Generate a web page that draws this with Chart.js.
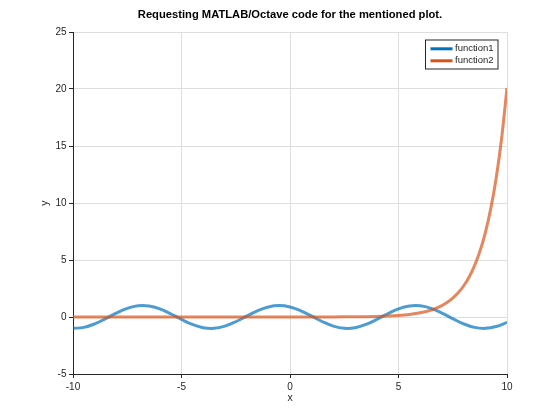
<!DOCTYPE html>
<html>
<head>
<meta charset="utf-8">
<script src="https://cdn.jsdelivr.net/npm/chart.js@4.4.0/dist/chart.umd.min.js"></script>
<style>
html,body{margin:0;padding:0;background:#fff;}
#wrap{width:560px;height:420px;}
</style>
</head>
<body>
<div id="wrap"><canvas id="c" width="560" height="420"></canvas></div>
<script>
// ---- data ----
const titleText = "Requesting MATLAB/Octave code for the mentioned plot.";
const seriesNames = ["function1", "function2"];
const xTickValues = [-10, -5, 0, 5, 10];
const yTickValues = [-5, 0, 5, 10, 15, 20, 25];

const x1 = [-10,-9.5,-9,-8.5,-8,-7.5,-7,-6.5,-6,-5.5,-5,-4.5,-4,-3.5,-3,-2.5,-2,-1.5,-1,-0.5,
            0,0.5,1,1.5,2,2.5,3,3.5,4,4.5,5,5.5,6,6.5,7,7.5,8,8.5,9,9.5,10];
const y1 = [-0.997,-0.911,-0.602,-0.146,0.347,0.754,0.977,0.960,0.709,0.284,-0.211,-0.654,-0.937,-0.990,-0.801,-0.416,0.071,0.540,0.878,1.000,
            0.878,0.540,0.071,-0.416,-0.801,-0.990,-0.937,-0.654,-0.211,0.284,0.709,0.960,0.977,0.754,0.347,-0.146,-0.602,-0.911,-0.997,-0.839,-0.476];

const x2 = [-10,-9,-8,-7,-6,-5,-4,-3,-2,-1,0,0.5,1,1.5,2,2.5,3,3.5,4,4.5,5,5.5,6,6.5,
            7,7.25,7.5,7.75,8,8.25,8.5,8.75,9,9.25,9.5,9.75,10];
const y2 = [0,0,0,0,0,0,0,0,0,0.0003,0.0009,0.0015,0.0025,0.0041,0.0067,0.0111,0.0183,0.0302,0.0498,0.0821,0.135,0.223,0.368,0.607,
            1.0,1.284,1.649,2.117,2.718,3.490,4.482,5.755,7.389,9.488,12.18,15.64,20.09];

const lineColors = ["rgba(0,114,189,0.7)", "rgba(217,83,25,0.7)"];
const legendColors = ["#0072BD", "#D95319"];
const inkColor = "#262626";
const gridColor = "#dedede";
const fontFamily = "'Liberation Sans', Arial, Helvetica, sans-serif";

function pts(xs, ys){ return xs.map((x,i)=>({x:x, y:ys[i]})); }

const titlePlugin = {
  id: 'centeredTitle',
  afterDraw(chart){
    const ctx = chart.ctx, a = chart.chartArea;
    ctx.save();
    ctx.font = "bold 11.2px " + fontFamily;
    ctx.fillStyle = '#000';
    ctx.textAlign = 'center';
    ctx.textBaseline = 'alphabetic';
    ctx.fillText(titleText, (a.left + a.right) / 2, 17.5);
    ctx.restore();
  }
};

const legendPlugin = {
  id: 'boxLegend',
  afterDraw(chart){
    const ctx = chart.ctx;
    const left = 425, top = 39.5, w = 73.5, h = 30;
    ctx.save();
    ctx.fillStyle = '#fff';
    ctx.fillRect(left, top, w, h);
    ctx.strokeStyle = inkColor;
    ctx.lineWidth = 1;
    ctx.strokeRect(left + 0.5, top + 0.5, w - 1, h - 1);
    ctx.font = "9.5px " + fontFamily;
    ctx.textBaseline = 'middle';
    ctx.textAlign = 'left';
    const rows = [48.8, 60.8];
    seriesNames.forEach((n,i)=>{
      ctx.strokeStyle = legendColors[i];
      ctx.lineWidth = 3;
      ctx.beginPath();
      ctx.moveTo(430.5, rows[i]);
      ctx.lineTo(452.5, rows[i]);
      ctx.stroke();
      ctx.fillStyle = inkColor;
      ctx.fillText(n, 455, rows[i]);
    });
    ctx.restore();
  }
};

new Chart(document.getElementById('c'), {
  type: 'line',
  data: {
    datasets: [
      { label: seriesNames[0], data: pts(x1, y1), borderColor: lineColors[0], borderWidth: 3,
        pointRadius: 0, tension: 0.4, fill: false, order: 1 },
      { label: seriesNames[1], data: pts(x2, y2), borderColor: lineColors[1], borderWidth: 3,
        pointRadius: 0, cubicInterpolationMode: 'monotone', fill: false, order: 0 }
    ]
  },
  options: {
    responsive: false,
    animation: false,
    devicePixelRatio: 1,
    layout: { padding: { left: 0, right: 53, top: 32, bottom: 0 } },
    plugins: {
      legend: { display: false },
      tooltip: { enabled: false },
      title: { display: false }
    },
    scales: {
      x: {
        type: 'linear',
        min: -10, max: 10,
        afterFit(s){ s.height = 46; },
        afterBuildTicks(s){ s.ticks = xTickValues.map(v=>({value:v})); },
        ticks: { color: inkColor, font: { family: fontFamily, size: 10 }, padding: 3, maxRotation: 0 },
        grid: { color: gridColor, lineWidth: 1, drawTicks: true, tickLength: 4, tickColor: inkColor },
        border: { display: true, color: inkColor, width: 1 },
        title: { display: true, text: 'x', color: inkColor, font: { family: fontFamily, size: 10.5, lineHeight: 1.2 },
                 padding: { top: 0, bottom: 16 } }
      },
      y: {
        type: 'linear',
        min: -5, max: 25,
        afterFit(s){ s.width = 73; },
        afterBuildTicks(s){ s.ticks = yTickValues.map(v=>({value:v})); },
        ticks: { color: inkColor, font: { family: fontFamily, size: 10 }, padding: 2.5 },
        grid: { color: gridColor, lineWidth: 1, drawTicks: true, tickLength: 4, tickColor: inkColor },
        border: { display: true, color: inkColor, width: 1 },
        title: { display: true, text: 'y', color: inkColor, font: { family: fontFamily, size: 10.5, lineHeight: 1.2 },
                 padding: { top: 38.4, bottom: 0 } }
      }
    }
  },
  plugins: [titlePlugin, legendPlugin]
});
</script>
</body>
</html>
